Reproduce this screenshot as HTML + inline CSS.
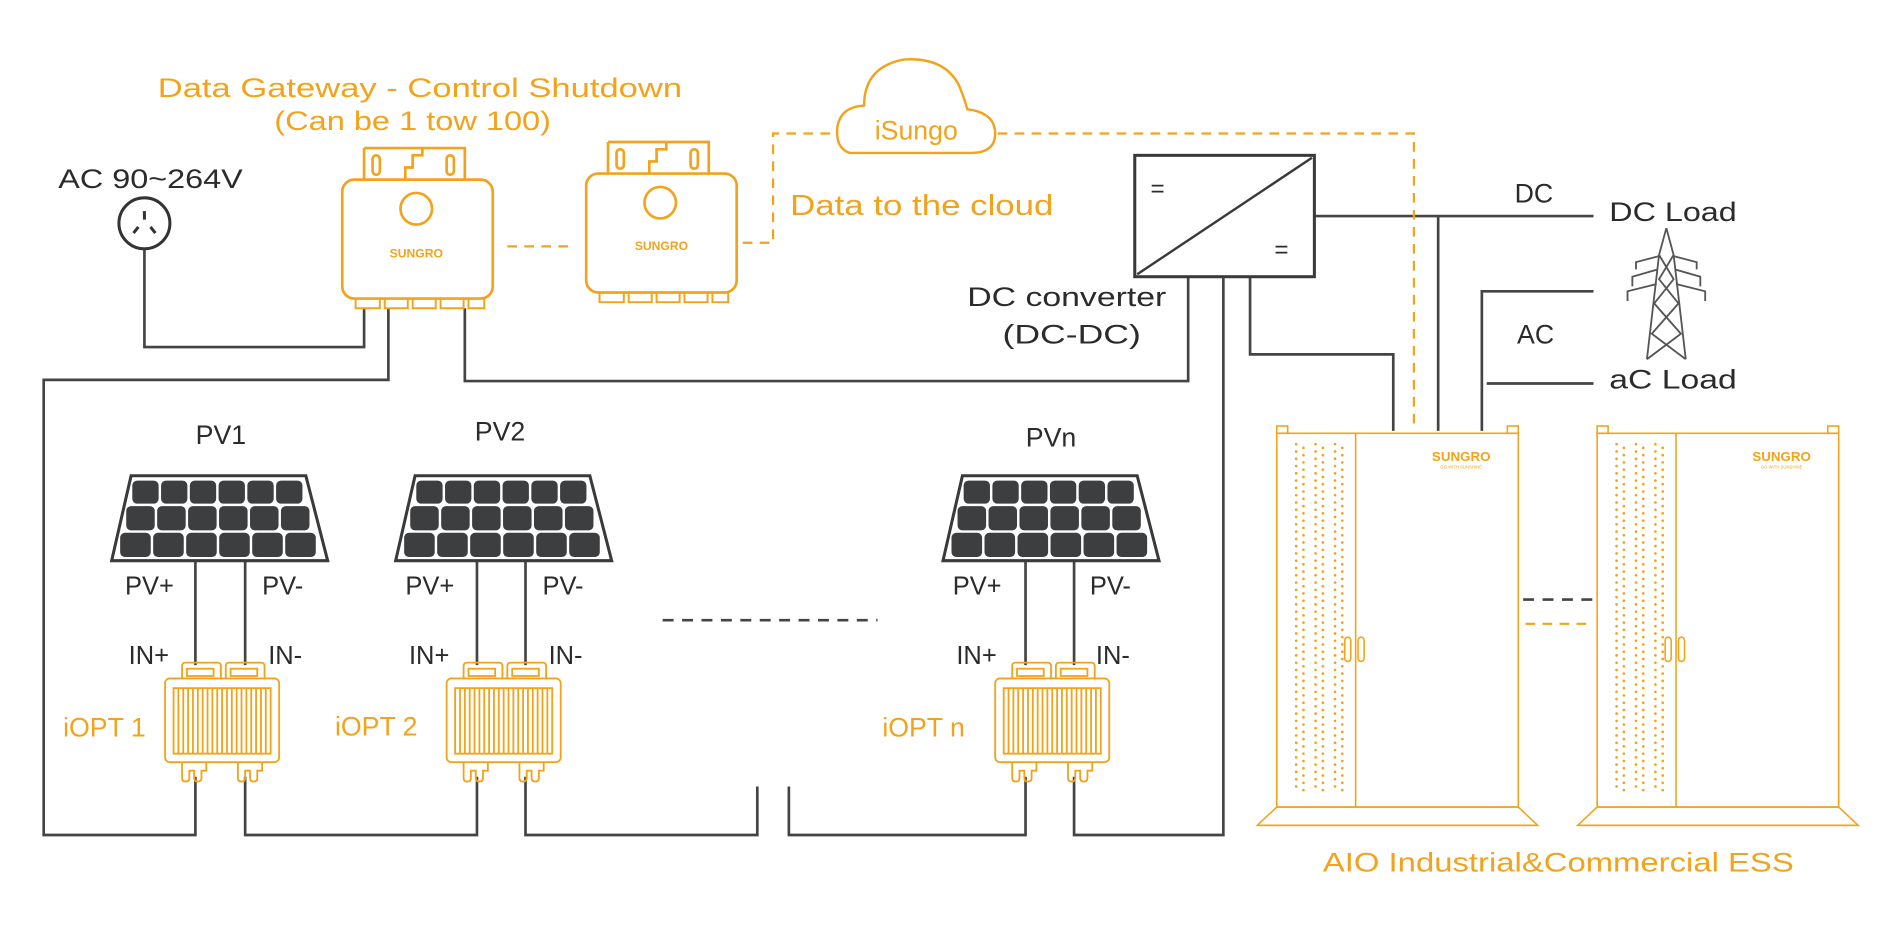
<!DOCTYPE html>
<html><head><meta charset="utf-8"><style>
html,body{margin:0;padding:0;background:#fff;width:1903px;height:943px;overflow:hidden}
svg{display:block}
text{font-family:"Liberation Sans",sans-serif}
.o{fill:#f2a31b}.k{fill:#2b2b2b}
</style></head><body>
<svg width="1903" height="943" viewBox="0 0 1568 777" preserveAspectRatio="none" xmlns="http://www.w3.org/2000/svg">
<defs>
<g id="panel">
<polygon points="16,0 160,0 178,70 0,70" fill="#fff" stroke="#3a3a3a" stroke-width="2.5"/>
<g fill="#3d3e40">
<rect x="17" y="4" width="21.7" height="19" rx="4"/><rect x="40.7" y="4" width="21.7" height="19" rx="4"/><rect x="64.4" y="4" width="21.7" height="19" rx="4"/><rect x="88.1" y="4" width="21.7" height="19" rx="4"/><rect x="111.8" y="4" width="21.7" height="19" rx="4"/><rect x="135.5" y="4" width="21.7" height="19" rx="4"/>
<rect x="12" y="25" width="23.5" height="20" rx="4"/><rect x="37.5" y="25" width="23.5" height="20" rx="4"/><rect x="63" y="25" width="23.5" height="20" rx="4"/><rect x="88.5" y="25" width="23.5" height="20" rx="4"/><rect x="114" y="25" width="23.5" height="20" rx="4"/><rect x="139.5" y="25" width="23.5" height="20" rx="4"/>
<rect x="7" y="47" width="25.2" height="20" rx="4"/><rect x="34.2" y="47" width="25.2" height="20" rx="4"/><rect x="61.4" y="47" width="25.2" height="20" rx="4"/><rect x="88.6" y="47" width="25.2" height="20" rx="4"/><rect x="115.8" y="47" width="25.2" height="20" rx="4"/><rect x="143" y="47" width="25.2" height="20" rx="4"/>
</g>
</g>
<g id="iopt" fill="none" stroke="#f2a31b" stroke-width="1.5">
<path d="M14,14 V4 Q14,1 17,1 H43 Q46,1 46,4 V14 M50,14 V4 Q50,1 53,1 H79 Q82,1 82,4 V14"/>
<rect x="18" y="6" width="22" height="6"/><rect x="54" y="6" width="22" height="6"/>
<rect x="0" y="14" width="94" height="69" rx="4"/>
<rect x="7" y="22" width="80" height="54"/>
<path d="M11,22V76M15,22V76M19,22V76M23,22V76M27,22V76M31,22V76M35,22V76M39,22V76M43,22V76M47,22V76M51,22V76M55,22V76M59,22V76M63,22V76M67,22V76M71,22V76M75,22V76M79,22V76M83,22V76"/>
<path d="M14,83 V96 Q14,99 17,99 Q20,99 20,96 V90 H24 V96 Q24,99 27,99 Q30,99 30,96 V90 H34 V83 M60,83 V96 Q60,99 63,99 Q66,99 66,96 V90 H70 V96 Q70,99 73,99 Q76,99 76,96 V90 H80 V83"/>
</g>
<g id="gw" fill="none" stroke="#f2a31b" stroke-width="2.2">
<path d="M18,0 H101 V26 M18,26 V0"/>
<rect x="25" y="6" width="6" height="16" rx="3"/><rect x="86" y="6" width="6" height="16" rx="3"/>
<path d="M52,26 V16 H58 V6 H66 V0"/>
<rect x="0" y="26" width="124" height="98" rx="10"/>
<circle cx="61" cy="50" r="13"/>
<path d="M11,124 h20 v8 h-20z M35,124 h19 v8 h-19z M58,124 h19 v8 h-19z M81,124 h19 v8 h-19z M104,124 h13 v8 h-13z" stroke-width="1.6"/>
</g>
<g id="cab" fill="none" stroke="#f2a31b" stroke-width="1.3">
<rect x="0" y="-3" width="9" height="6"/><rect x="190" y="-3" width="9" height="6"/>
<rect x="0" y="3" width="199" height="308"/>
<line x1="65" y1="3" x2="65" y2="311"/>
<path d="M-16,326 L0,311 H199 L215,326 Z"/>
<line x1="-16" y1="326" x2="215" y2="326"/>
<rect x="56" y="171" width="5" height="20" rx="2.5"/><rect x="67" y="171" width="5" height="20" rx="2.5"/>
<g stroke-width="2.2" stroke-linecap="round" stroke-dasharray="0 6">
<line x1="16" y1="12" x2="16" y2="300"/><line x1="22" y1="15" x2="22" y2="300"/>
<line x1="32" y1="12" x2="32" y2="300"/><line x1="38" y1="15" x2="38" y2="300"/>
<line x1="48" y1="12" x2="48" y2="300"/><line x1="54" y1="15" x2="54" y2="300"/>
</g>
<text x="152" y="26" text-anchor="middle" font-size="11" font-weight="bold" fill="#f2a31b" stroke="none">SUNGRO</text>
<text x="152" y="32" text-anchor="middle" font-size="3.5" fill="#f2a31b" stroke="none">GO WITH SUNSHINE</text>
</g>
</defs>

<!-- texts top -->
<text class="o" x="130" y="80" font-size="22" textLength="432" lengthAdjust="spacingAndGlyphs">Data Gateway - Control Shutdown</text>
<text class="o" x="226" y="107" font-size="22" textLength="228" lengthAdjust="spacingAndGlyphs">(Can be 1 tow 100)</text>
<text class="k" x="48" y="155" font-size="22" textLength="152" lengthAdjust="spacingAndGlyphs">AC 90~264V</text>
<circle cx="119" cy="184" r="21" fill="none" stroke="#333" stroke-width="2.5"/>
<path d="M119,174 v7 M110,192 l4,-5 M128,192 l-4,-5" stroke="#333" stroke-width="2.5"/>

<!-- dark wires -->
<g fill="none" stroke="#444" stroke-width="2.2">
<path d="M119,206 V286 H300 V254"/>
<path d="M320,254 V313 H36 V688 H161 V640"/>
<path d="M383,254 V314 H979 V228"/>
<path d="M202,640 V688 H393 V640"/>
<path d="M433,640 V688 H624 V648"/>
<path d="M650,648 V688 H845 V640"/>
<path d="M885,640 V688 H1008 V228"/>
<path d="M1030,228 V292 H1148 V355"/>
<path d="M1083,178 H1313"/>
<path d="M1185,178 V355"/>
<path d="M1313,240 H1221 V355"/>
<path d="M1225,316 H1313"/>
<path d="M161,462 V548 M202,462 V548 M393,462 V548 M433,462 V548 M845,462 V548 M885,462 V548"/>
<path d="M546,511 H723" stroke-dasharray="9 7"/>
<path d="M1255,494 H1313" stroke-dasharray="9 7"/>
</g>
<!-- orange dashed -->
<g fill="none" stroke="#f2a31b" stroke-width="1.8" stroke-dasharray="8 6">
<path d="M418,203 H470"/>
<path d="M612,200 H637 V110 H690"/>
<path d="M822,110 H1165 V355"/>
<path d="M1257,514 H1313"/>
</g>

<use href="#gw" x="282" y="122"/>
<use href="#gw" x="483" y="117"/>
<text x="343" y="212" text-anchor="middle" font-size="10" font-weight="bold" fill="#f2a31b">SUNGRO</text>
<text x="545" y="206" text-anchor="middle" font-size="10" font-weight="bold" fill="#f2a31b">SUNGRO</text>

<!-- cloud -->
<path d="M700,126 Q688,122 690,104 Q693,88 712,87 Q712,55 745,49 Q778,47 790,70 Q795,82 797,90 Q820,93 820,110 Q820,126 800,126 Z" fill="#fff" stroke="#f2a31b" stroke-width="2"/>
<text class="o" x="755" y="115" text-anchor="middle" font-size="22">iSungo</text>
<text class="o" x="651" y="177" font-size="24" textLength="217" lengthAdjust="spacingAndGlyphs">Data to the cloud</text>

<!-- converter -->
<rect x="935" y="128" width="148" height="100" fill="#fff" stroke="#3a3a3a" stroke-width="2.5"/>
<line x1="937" y1="226" x2="1081" y2="130" stroke="#3a3a3a" stroke-width="2"/>
<text class="k" x="948" y="162" font-size="20">=</text>
<text class="k" x="1050" y="212" font-size="20">=</text>
<text class="k" x="797" y="252" font-size="22" textLength="164" lengthAdjust="spacingAndGlyphs">DC converter</text>
<text class="k" x="826" y="283" font-size="22" textLength="114" lengthAdjust="spacingAndGlyphs">(DC-DC)</text>
<text class="k" x="1248" y="167" font-size="22">DC</text>
<text class="k" x="1326" y="182" font-size="22" textLength="105" lengthAdjust="spacingAndGlyphs">DC Load</text>
<text class="k" x="1250" y="283" font-size="22">AC</text>
<text class="k" x="1326" y="320" font-size="22" textLength="105" lengthAdjust="spacingAndGlyphs">aC Load</text>

<!-- tower -->
<g fill="none" stroke="#555" stroke-width="1.5">
<path d="M1373,188 L1367,210 L1357,296 M1373,188 L1379,210 L1389,296 M1367,210 L1379,230 L1363,250 L1385,275 L1357,296 M1379,210 L1367,230 L1383,250 L1361,275 L1389,296"/>
<path d="M1367,211 L1348,216 V222 M1379,211 L1398,216 V222 M1366,222 L1345,228 V236 M1380,222 L1401,228 V236 M1365,234 L1341,240 V248 M1381,234 L1405,240 V248"/>
</g>

<!-- PV labels -->
<text class="k" x="182" y="366" font-size="22" text-anchor="middle">PV1</text>
<text class="k" x="412" y="363" font-size="22" text-anchor="middle">PV2</text>
<text class="k" x="866" y="368" font-size="22" text-anchor="middle">PVn</text>
<use href="#panel" x="92" y="392"/>
<use href="#panel" x="326" y="392"/>
<use href="#panel" x="777" y="392"/>

<g class="k" font-size="21">
<text x="103" y="490">PV+</text><text x="216" y="490">PV-</text>
<text x="106" y="547">IN+</text><text x="221" y="547">IN-</text>
<text x="334" y="490">PV+</text><text x="447" y="490">PV-</text>
<text x="337" y="547">IN+</text><text x="452" y="547">IN-</text>
<text x="785" y="490">PV+</text><text x="898" y="490">PV-</text>
<text x="788" y="547">IN+</text><text x="903" y="547">IN-</text>
</g>
<use href="#iopt" x="136" y="545"/>
<use href="#iopt" x="368" y="545"/>
<use href="#iopt" x="820" y="545"/>
<text class="o" x="52" y="607" font-size="22">iOPT 1</text>
<text class="o" x="276" y="606" font-size="22">iOPT 2</text>
<text class="o" x="727" y="607" font-size="22">iOPT n</text>

<use href="#cab" x="1052" y="354"/>
<use href="#cab" x="1316" y="354"/>
<text class="o" x="1090" y="718" font-size="22" textLength="388" lengthAdjust="spacingAndGlyphs">AIO Industrial&amp;Commercial ESS</text>
</svg>
</body></html>
